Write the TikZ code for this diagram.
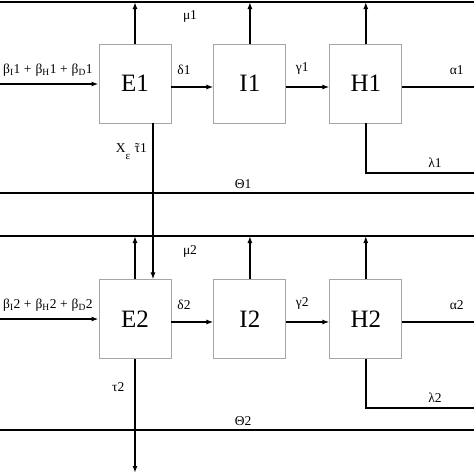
\documentclass[tikz,border=0pt]{standalone}
\usepackage{fontspec}
\setmainfont{Liberation Serif}
\usetikzlibrary{positioning,arrows.meta}

\newcommand{\plusgap}{\hspace{3.5pt}+\hspace{4pt}}

\begin{document}
\begin{tikzpicture}[x=1pt, y=-1pt,
        compartment/.style={draw=gray!70, line width=0.9pt, minimum width=72pt, minimum height=79pt, inner sep=0pt, font=\fontsize{25}{28}\selectfont},
        flow/.style={draw, line width=1.4pt, -{Latex[length=7pt,width=5pt]}},
        wire/.style={draw, line width=1.4pt},
        rate/.style={font=\fontsize{13.5}{15}\selectfont, inner sep=1pt}
    ]
        \useasboundingbox (0,0) rectangle (474,474);

        % Nodes
        \node[compartment] (E1) at (135,83.5) {E1};
        \node[compartment, right=42pt of E1] (I1) {I1};
        \node[compartment, right=43pt of I1] (H1) {H1};
        \node[compartment, below=156pt of E1] (E2) {E2};
        \node[compartment, right=42pt of E2] (I2) {I2};
        \node[compartment, right=43pt of I2] (H2) {H2};

        % Free ends
        \coordinate (topL) at (0,2);     \coordinate (topR) at (474,2);
        \coordinate (th1L) at (0,193);   \coordinate (th1R) at (474,193);
        \coordinate (sepL) at (0,236);   \coordinate (sepR) at (474,236);
        \coordinate (th2L) at (0,430);   \coordinate (th2R) at (474,430);
        \coordinate (in1) at (0,84);     \coordinate (r1) at (474,87);
        \coordinate (in2) at (0,319);    \coordinate (r2) at (474,322);
        \coordinate (lam1) at (474,173); \coordinate (lam2) at (474,408);
        \coordinate (bot) at (0,473);

        % Long lines
        \draw[wire] (topL) -- (topR);
        \draw[wire] (th1L) -- (th1R) node[rate, pos=0.513, above=3pt] {Θ1};
        \draw[wire] (sepL) -- (sepR);
        \draw[wire] (th2L) -- (th2R) node[rate, pos=0.513, above=3pt] {Θ2};

        % Edges, first group
        \draw[flow] (in1) -- (in1 -| E1.west)
            node[rate, anchor=south west, pos=0, xshift=1.5pt, yshift=6pt] {β\textsubscript{I}1\plusgap β\textsubscript{H}1\plusgap β\textsubscript{D}1};
        \draw[flow] (r1 -| E1.east) -- (r1 -| I1.west) node[rate, pos=0.3, above=11pt] {δ1};
        \draw[flow] (r1 -| I1.east) -- (r1 -| H1.west) node[rate, pos=0.37, above=11pt] {γ1};
        \draw[wire] (r1 -| H1.east) -- (r1) node[rate, pos=0.76, above=11pt] {α1};
        \draw[flow] (E1) -- (E1 |- topL);
        \draw[flow] (I1) -- (I1 |- topL);
        \draw[flow] (H1) -- (H1 |- topL);
        \draw[wire] (H1) |- (lam1) node[rate, pos=0.82, above=4pt] {λ1};
        \draw[flow] ([xshift=18pt]E1.south) -- ([xshift=18pt]E2.north);
        \node[rate] (mu1) at (190,16) {μ1};
        \node[rate, anchor=east] (tau1) at (148,152) {X\raisebox{-7pt}{\fontsize{11}{12}\selectfont ε}\,\,\accent"02DC τ1};

        % Edges, second group
        \draw[flow] (in2) -- (in2 -| E2.west)
            node[rate, anchor=south west, pos=0, xshift=1.5pt, yshift=6pt] {β\textsubscript{I}2\plusgap β\textsubscript{H}2\plusgap β\textsubscript{D}2};
        \draw[flow] (r2 -| E2.east) -- (r2 -| I2.west) node[rate, pos=0.3, above=11pt] {δ2};
        \draw[flow] (r2 -| I2.east) -- (r2 -| H2.west) node[rate, pos=0.37, above=11pt] {γ2};
        \draw[wire] (r2 -| H2.east) -- (r2) node[rate, pos=0.76, above=11pt] {α2};
        \draw[flow] (E2) -- (E2 |- sepL);
        \draw[flow] (I2) -- (I2 |- sepL);
        \draw[flow] (H2) -- (H2 |- sepL);
        \draw[wire] (H2) |- (lam2) node[rate, pos=0.82, above=4pt] {λ2};
        \draw[flow] (E2) -- (E2 |- bot) node[rate, pos=0.24, left=9pt] {τ2};
        \node[rate] (mu2) at (190,251) {μ2};
    \end{tikzpicture}
\end{document}
